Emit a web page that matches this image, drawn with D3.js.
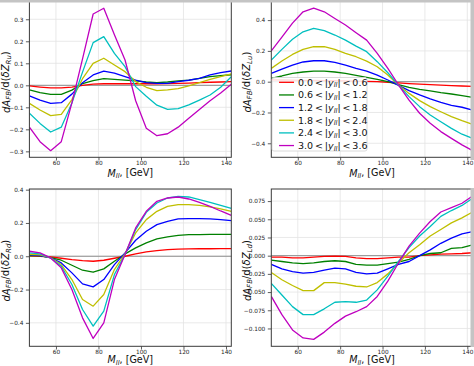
<!DOCTYPE html>
<html><head><meta charset="utf-8">
<script src="https://cdn.jsdelivr.net/npm/d3@7"></script>
<style>
html,body{margin:0;padding:0;background:#fff;}
svg{display:block;font-family:"DejaVu Sans",sans-serif;}
</style></head>
<body>
<svg id="c" width="474" height="366"></svg>
<script>
// ---------- data ----------
const mll = [47.5,52.5,57.5,62.5,67.5,72.5,77.5,82.5,87.5,92.5,97.5,102.5,107.5,112.5,117.5,122.5,127.5,132.5,137.5,142.5];
const binLabels = [["0.0","0.6"],["0.6","1.2"],["1.2","1.8"],["1.8","2.4"],["2.4","3.0"],["3.0","3.6"]];
const colors = ["#ff0000","#008000","#0000ff","#bfbf00","#00bfbf","#bf00bf"];
const xTicks = [60,80,100,120,140];

const ZRu = [
 [-0.003,-0.008,-0.012,-0.012,-0.008,0.0,0.005,0.007,0.007,0.007,0.007,0.007,0.007,0.008,0.009,0.010,0.012,0.014,0.015,0.017],
 [-0.021,-0.033,-0.041,-0.041,-0.022,0.008,0.021,0.030,0.027,0.024,0.020,0.015,0.012,0.015,0.020,0.024,0.032,0.039,0.044,0.048],
 [-0.048,-0.067,-0.082,-0.079,-0.040,0.012,0.047,0.064,0.055,0.039,0.024,0.012,0.009,0.009,0.017,0.023,0.032,0.047,0.058,0.065],
 [-0.082,-0.112,-0.138,-0.132,-0.065,0.030,0.100,0.123,0.092,0.062,0.017,-0.009,-0.024,-0.021,-0.015,-0.003,0.012,0.027,0.039,0.052],
 [-0.127,-0.173,-0.212,-0.190,-0.080,0.060,0.194,0.221,0.145,0.085,-0.006,-0.050,-0.090,-0.109,-0.106,-0.089,-0.067,-0.044,-0.009,0.039],
 [-0.190,-0.256,-0.297,-0.256,-0.080,0.120,0.324,0.350,0.230,0.115,-0.070,-0.195,-0.229,-0.220,-0.190,-0.150,-0.110,-0.070,-0.035,0.005]
];
const ZLu = [
 [0.012,0.011,0.010,0.009,0.008,0.007,0.006,0.005,0.004,0.002,0.0,-0.004,-0.008,-0.012,-0.016,-0.019,-0.022,-0.025,-0.028,-0.031],
 [0.022,0.037,0.054,0.063,0.069,0.069,0.063,0.054,0.041,0.028,0.015,0.0,-0.019,-0.037,-0.050,-0.060,-0.071,-0.080,-0.091,-0.102],
 [0.054,0.082,0.108,0.128,0.136,0.136,0.125,0.108,0.086,0.069,0.043,0.011,-0.024,-0.058,-0.086,-0.112,-0.134,-0.154,-0.166,-0.184],
 [0.086,0.134,0.177,0.210,0.227,0.227,0.210,0.184,0.162,0.134,0.097,0.043,-0.022,-0.076,-0.123,-0.162,-0.195,-0.227,-0.253,-0.277],
 [0.140,0.210,0.275,0.324,0.346,0.331,0.303,0.270,0.231,0.195,0.130,0.058,-0.022,-0.097,-0.162,-0.216,-0.260,-0.303,-0.341,-0.368],
 [0.200,0.290,0.380,0.454,0.478,0.454,0.410,0.368,0.318,0.270,0.184,0.086,-0.020,-0.120,-0.205,-0.270,-0.324,-0.368,-0.410,-0.448]
];
const ZRd = [
 [0.002,0.0,-0.004,-0.012,-0.020,-0.026,-0.030,-0.024,-0.012,0.0,0.014,0.026,0.034,0.040,0.043,0.044,0.045,0.045,0.046,0.046],
 [0.004,0.002,-0.008,-0.024,-0.054,-0.084,-0.096,-0.076,-0.030,0.014,0.050,0.080,0.104,0.116,0.126,0.130,0.130,0.132,0.132,0.132],
 [0.008,0.004,-0.010,-0.040,-0.100,-0.166,-0.184,-0.140,-0.050,0.020,0.096,0.150,0.190,0.210,0.224,0.226,0.226,0.224,0.220,0.214],
 [0.012,0.008,-0.010,-0.050,-0.140,-0.260,-0.300,-0.230,-0.080,0.016,0.140,0.220,0.270,0.300,0.310,0.310,0.306,0.296,0.284,0.270],
 [0.020,0.014,-0.010,-0.060,-0.170,-0.320,-0.420,-0.330,-0.110,0.010,0.160,0.264,0.320,0.350,0.360,0.356,0.340,0.324,0.306,0.288],
 [0.030,0.020,-0.010,-0.070,-0.200,-0.370,-0.494,-0.400,-0.140,0.010,0.170,0.270,0.330,0.350,0.356,0.344,0.324,0.300,0.272,0.246]
];
const ZLd = [
 [-0.002,-0.002,-0.003,-0.003,-0.002,-0.001,-0.0005,-0.001,-0.003,-0.004,-0.004,-0.003,-0.002,-0.002,0.0,0.001,0.002,0.0025,0.003,0.004],
 [-0.006,-0.008,-0.010,-0.011,-0.010,-0.008,-0.007,-0.008,-0.012,-0.013,-0.013,-0.011,-0.009,-0.005,0.0,0.003,0.004,0.010,0.011,0.015],
 [-0.012,-0.018,-0.022,-0.024,-0.023,-0.020,-0.017,-0.018,-0.023,-0.025,-0.024,-0.018,-0.012,-0.008,0.0,0.008,0.017,0.024,0.030,0.033],
 [-0.023,-0.033,-0.041,-0.048,-0.048,-0.037,-0.037,-0.039,-0.042,-0.043,-0.037,-0.025,-0.010,0.004,0.015,0.027,0.036,0.045,0.052,0.060],
 [-0.038,-0.054,-0.070,-0.081,-0.081,-0.073,-0.064,-0.063,-0.064,-0.061,-0.047,-0.028,-0.008,0.011,0.027,0.040,0.054,0.062,0.069,0.079],
 [-0.056,-0.081,-0.102,-0.113,-0.115,-0.105,-0.093,-0.083,-0.077,-0.070,-0.056,-0.035,-0.010,0.013,0.031,0.047,0.060,0.066,0.072,0.082]
];

const yTicksRu = [-0.3,-0.2,-0.1,0.0,0.1,0.2,0.3];
const yTicksLu = [-0.4,-0.2,0.0,0.2,0.4];
const yTicksRd = [-0.4,-0.2,0.0,0.2,0.4];
const yTicksLd = [-0.100,-0.075,-0.050,-0.025,0.000,0.025,0.050,0.075];

// ---------- layout ----------
const svg = d3.select("#c");
const panels = [
  {data:ZRu, sub:"Ru", ticks:yTicksRu, fmt:".1f", x0:29.4, x1:231.3, y0:1, y1:157.3, dom:[-0.327,0.383], lx:9.5, xly:176.5, legend:false},
  {data:ZLu, sub:"Lu", ticks:yTicksLu, fmt:".1f", x0:271.3, x1:472.6, y0:1, y1:157.3, dom:[-0.491,0.524], lx:250.5, xly:176.5, legend:true},
  {data:ZRd, sub:"Rd", ticks:yTicksRd, fmt:".1f", x0:29.4, x1:231.3, y0:189, y1:346.3, dom:[-0.541,0.404], lx:9.5, xly:363.2, legend:false},
  {data:ZLd, sub:"Ld", ticks:yTicksLd, fmt:".3f", x0:271.3, x1:472.6, y0:189, y1:346.3, dom:[-0.1245,0.0916], lx:250.5, xly:363.2, legend:false}
];

function addRuns(textSel, runs){
  runs.forEach(r=>{
    const t = textSel.append("tspan").text(r.t);
    if(r.it) t.attr("font-style","italic");
    if(r.sub){ t.attr("font-size","70%").attr("dy","0.25em"); }
    if(r.up){ t.attr("dy","-0.18em"); }
  });
}

panels.forEach((p,pi)=>{
  const x = d3.scaleLinear().domain([47.5,142.5]).range([p.x0,p.x1]);
  const y = d3.scaleLinear().domain(p.dom).range([p.y1,p.y0]);
  const g = svg.append("g");
  const cid = "clip"+pi;
  svg.append("clipPath").attr("id",cid).append("rect")
    .attr("x",p.x0).attr("y",p.y0).attr("width",p.x1-p.x0).attr("height",p.y1-p.y0);

  // grid
  g.append("g").selectAll("line").data(xTicks).join("line")
    .attr("x1",d=>x(d)).attr("x2",d=>x(d)).attr("y1",p.y0).attr("y2",p.y1)
    .attr("stroke","#e3e3e3").attr("stroke-width",0.8);
  g.append("g").selectAll("line").data(p.ticks).join("line")
    .attr("x1",p.x0).attr("x2",p.x1).attr("y1",d=>y(d)).attr("y2",d=>y(d))
    .attr("stroke","#e3e3e3").attr("stroke-width",0.8);

  // zero line
  g.append("line").attr("x1",p.x0).attr("x2",p.x1).attr("y1",y(0)).attr("y2",y(0))
    .attr("stroke","#8c8c8c").attr("stroke-width",1);

  // series
  const line = d3.line().x((d,i)=>x(mll[i])).y(d=>y(d));
  g.append("g").attr("clip-path",`url(#${cid})`).selectAll("path").data(p.data).join("path")
    .attr("d",line).attr("fill","none").attr("stroke",(d,i)=>colors[i])
    .attr("stroke-width",1.3).attr("stroke-linejoin","round");

  // axes
  const fmt = d3.format(p.fmt);
  const ax = g.append("g").attr("transform",`translate(0,${p.y1})`)
    .call(d3.axisBottom(x).tickValues(xTicks).tickSize(3.2).tickPadding(0.5).tickFormat(d3.format("d")));
  const ay = g.append("g").attr("transform",`translate(${p.x0},0)`)
    .call(d3.axisLeft(y).tickValues(p.ticks).tickSize(3.5).tickPadding(2.5).tickFormat(fmt));
  [ax,ay].forEach(a=>{
    a.select(".domain").remove();
    a.selectAll("line").attr("stroke","#333").attr("stroke-width",0.8);
    a.selectAll("text").attr("font-size","5.8px").attr("fill","#222").attr("font-family","DejaVu Sans");
  });

  // spines
  g.append("rect").attr("x",p.x0).attr("y",p.y0).attr("width",p.x1-p.x0).attr("height",p.y1-p.y0)
    .attr("fill","none").attr("stroke","#3a3a3a").attr("stroke-width",1);

  // x label
  const xl = g.append("text").attr("x",(p.x0+p.x1)/2).attr("y",p.xly)
    .attr("text-anchor","middle").attr("font-size","9.6px").attr("fill","#111");
  addRuns(xl,[{t:"M",it:true},{t:"ll",it:true,sub:true},{t:", [GeV]",up:true}]);

  // y label
  const yl = g.append("text").attr("transform",`translate(${p.lx},${(p.y0+p.y1)/2+3}) rotate(-90)`)
    .attr("text-anchor","middle").attr("font-size","10px").attr("fill","#111");
  addRuns(yl,[{t:"dA",it:true},{t:"FB",it:true,sub:true},{t:"/d(",up:true},{t:"δZ",it:true},
    {t:p.sub,it:true,sub:true},{t:")",up:true}]);

  // legend
  if(p.legend){
    const lg = g.append("g");
    const lx0 = 272, ly0 = 77.5, lw = 95, lh = 73.5;
    lg.append("rect").attr("x",lx0).attr("y",ly0).attr("width",lw).attr("height",lh)
      .attr("rx",2).attr("fill","#fff").attr("fill-opacity",0.85).attr("stroke","#d0d0d0").attr("stroke-width",0.8);
    binLabels.forEach((b,i)=>{
      const ry = 82.3 + i*12.65;
      lg.append("line").attr("x1",279).attr("x2",294).attr("y1",ry).attr("y2",ry)
        .attr("stroke",colors[i]).attr("stroke-width",1.3);
      const t = lg.append("text").attr("x",298).attr("y",ry+3.4).attr("font-size","9.5px").attr("fill","#111");
      addRuns(t,[{t:b[0]+"\u2009<\u2009|"},{t:"y",it:true},{t:"ll",it:true,sub:true},{t:"|\u2009<\u2009"+b[1],up:true}]);
    });
  }
});

// grey frame remnants at image edges
svg.append("rect").attr("x",0).attr("y",0).attr("width",474).attr("height",2.5).attr("fill","#c4c4c4");
svg.append("rect").attr("x",470.5).attr("y",0).attr("width",3.5).attr("height",160).attr("fill","#c4c4c4");
svg.append("rect").attr("x",470.5).attr("y",188).attr("width",3.5).attr("height",159).attr("fill","#c4c4c4");
</script>
</body></html>
